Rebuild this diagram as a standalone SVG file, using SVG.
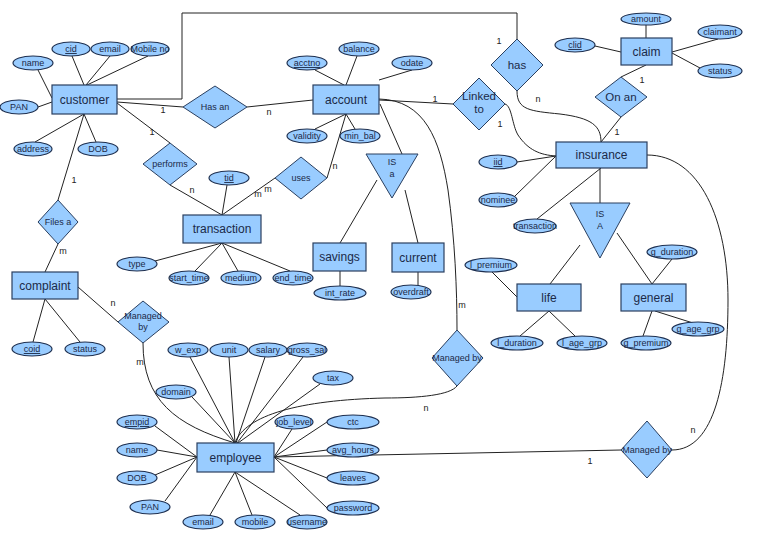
<svg xmlns="http://www.w3.org/2000/svg" width="768" height="543" viewBox="0 0 768 543">
<style>
.ent{fill:#99ccff;stroke:#2a3f5f;stroke-width:1.2}
.att{fill:#99ccff;stroke:#1e2f4f;stroke-width:1.2}
.rel{fill:#99ccff;stroke:#2a3f5f;stroke-width:1}
.ln{fill:none;stroke:#222;stroke-width:1}
text{font-family:"Liberation Sans",Arial,sans-serif;fill:#1b2a48;text-anchor:middle}
.et{font-size:12px}
.at{font-size:9px}
.rt{font-size:9px}
.rb{font-size:11.5px}
.cd{font-size:9px;fill:#222}
.u{text-decoration:underline}
</style>
<rect width="768" height="543" fill="#fff"/>
<g id="connectors">
<polyline class="ln" points="117,99 182,99 182,13 517,13 517,39"/>
<path class="ln" d="M517,91 C517,110 530,111 560,114 C592,118 601,126 601,142"/>
<line class="ln" x1="117" y1="102" x2="183" y2="107"/>
<line class="ln" x1="247" y1="107" x2="313" y2="100"/>
<line class="ln" x1="117" y1="103" x2="170" y2="143"/>
<line class="ln" x1="170" y1="185" x2="222" y2="215"/>
<line class="ln" x1="275" y1="178" x2="222" y2="215"/>
<line class="ln" x1="327" y1="178" x2="346" y2="114"/>
<line class="ln" x1="84" y1="114" x2="58" y2="200"/>
<line class="ln" x1="58" y1="244" x2="45" y2="272"/>
<line class="ln" x1="78" y1="287" x2="118" y2="322"/>
<path class="ln" d="M143,343 C143,400 175,425 235,443"/>
<line class="ln" x1="379" y1="100" x2="453" y2="104"/>
<path class="ln" d="M505,104 C512,106 512,125 518,135 C528,150 540,155 556,156"/>
<path class="ln" d="M379,99 C425,100 440,140 448,190 C455,240 457,290 457,330"/>
<path class="ln" d="M457,386 C450,395 420,398 385,398 C300,400 245,415 235,443"/>
<line class="ln" x1="380" y1="104" x2="402" y2="154"/>
<line class="ln" x1="377" y1="180" x2="340" y2="243"/>
<line class="ln" x1="405" y1="190" x2="418" y2="243"/>
<line class="ln" x1="646" y1="65" x2="621" y2="77"/>
<line class="ln" x1="621" y1="117" x2="601" y2="142"/>
<line class="ln" x1="600" y1="168" x2="600" y2="203"/>
<line class="ln" x1="580" y1="245" x2="550" y2="284"/>
<line class="ln" x1="617" y1="233" x2="652" y2="284"/>
<line class="ln" x1="274" y1="457" x2="621" y2="450"/>
<path class="ln" d="M672,450 C715,450 728,380 728,300 C728,220 700,155 647,155"/>
<!-- attribute links -->
<line class="ln" x1="72" y1="56" x2="84" y2="85"/>
<line class="ln" x1="110" y1="56" x2="86" y2="85"/>
<line class="ln" x1="148" y1="56" x2="87" y2="85"/>
<line class="ln" x1="38" y1="70" x2="52" y2="98"/>
<line class="ln" x1="38" y1="107" x2="52" y2="102"/>
<line class="ln" x1="35" y1="142" x2="84" y2="114"/>
<line class="ln" x1="96" y1="142" x2="84" y2="114"/>
<line class="ln" x1="315" y1="70" x2="344" y2="85"/>
<line class="ln" x1="357" y1="56" x2="346" y2="85"/>
<line class="ln" x1="412" y1="70" x2="379" y2="80"/>
<line class="ln" x1="315" y1="129" x2="346" y2="114"/>
<line class="ln" x1="355" y1="129" x2="346" y2="114"/>
<line class="ln" x1="227" y1="185" x2="222" y2="215"/>
<line class="ln" x1="155" y1="261" x2="222" y2="243"/>
<line class="ln" x1="195" y1="271" x2="222" y2="243"/>
<line class="ln" x1="238" y1="271" x2="222" y2="243"/>
<line class="ln" x1="290" y1="271" x2="222" y2="243"/>
<line class="ln" x1="33" y1="342" x2="45" y2="299"/>
<line class="ln" x1="80" y1="342" x2="45" y2="299"/>
<line class="ln" x1="340" y1="271" x2="340" y2="286"/>
<line class="ln" x1="418" y1="272" x2="418" y2="285"/>
<line class="ln" x1="646" y1="25" x2="646" y2="38"/>
<line class="ln" x1="595" y1="46" x2="621" y2="52"/>
<line class="ln" x1="718" y1="39" x2="672" y2="52"/>
<line class="ln" x1="700" y1="68" x2="672" y2="53"/>
<line class="ln" x1="517" y1="162" x2="556" y2="156"/>
<line class="ln" x1="515" y1="196" x2="556" y2="156"/>
<line class="ln" x1="537" y1="219" x2="601" y2="168"/>
<line class="ln" x1="492" y1="272" x2="517" y2="297"/>
<line class="ln" x1="520" y1="336" x2="549" y2="311"/>
<line class="ln" x1="575" y1="336" x2="549" y2="311"/>
<line class="ln" x1="672" y1="259" x2="652" y2="284"/>
<line class="ln" x1="643" y1="336" x2="652" y2="311"/>
<line class="ln" x1="693" y1="323" x2="655" y2="311"/>
<line class="ln" x1="190" y1="357" x2="235" y2="443"/>
<line class="ln" x1="229" y1="357" x2="235" y2="443"/>
<line class="ln" x1="265" y1="357" x2="236" y2="443"/>
<line class="ln" x1="303" y1="357" x2="237" y2="443"/>
<line class="ln" x1="320" y1="384" x2="238" y2="443"/>
<line class="ln" x1="192" y1="397" x2="235" y2="443"/>
<line class="ln" x1="292" y1="429" x2="274" y2="457"/>
<line class="ln" x1="327" y1="422" x2="274" y2="457"/>
<line class="ln" x1="327" y1="450" x2="274" y2="457"/>
<line class="ln" x1="327" y1="478" x2="274" y2="457"/>
<line class="ln" x1="327" y1="508" x2="274" y2="457"/>
<line class="ln" x1="210" y1="515" x2="235" y2="472"/>
<line class="ln" x1="252" y1="515" x2="235" y2="472"/>
<line class="ln" x1="300" y1="515" x2="235" y2="472"/>
<line class="ln" x1="155" y1="426" x2="197" y2="457"/>
<line class="ln" x1="157" y1="450" x2="197" y2="457"/>
<line class="ln" x1="155" y1="475" x2="197" y2="457"/>
<line class="ln" x1="165" y1="501" x2="197" y2="457"/>
<g id="cardinalities">
<text class="cd" x="499" y="44">1</text>
<text class="cd" x="538" y="102">n</text>
<text class="cd" x="163" y="113">1</text>
<text class="cd" x="269" y="115">n</text>
<text class="cd" x="152" y="135">1</text>
<text class="cd" x="192" y="193">n</text>
<text class="cd" x="258" y="197">m</text>
<text class="cd" x="268" y="192">m</text>
<text class="cd" x="335" y="169">n</text>
<text class="cd" x="74" y="183">1</text>
<text class="cd" x="63" y="254">m</text>
<text class="cd" x="113" y="306">n</text>
<text class="cd" x="140" y="365">m</text>
<text class="cd" x="435" y="102">1</text>
<text class="cd" x="500" y="127">1</text>
<text class="cd" x="642" y="83">1</text>
<text class="cd" x="617" y="135">1</text>
<text class="cd" x="462" y="308">m</text>
<text class="cd" x="426" y="411">n</text>
<text class="cd" x="590" y="464">1</text>
<text class="cd" x="693" y="433">n</text>
</g>
</g>
<!-- entities -->
<g id="customer"><rect class="ent" x="52" y="85" width="65" height="29"/><text class="et" x="84.5" y="104">customer</text></g>
<g id="account"><rect class="ent" x="313" y="85" width="66" height="29"/><text class="et" x="346" y="104">account</text></g>
<g id="transaction"><rect class="ent" x="183" y="215" width="78" height="28"/><text class="et" x="222" y="233">transaction</text></g>
<g id="complaint"><rect class="ent" x="12" y="272" width="66" height="27"/><text class="et" x="45" y="290">complaint</text></g>
<g id="savings"><rect class="ent" x="313" y="243" width="53" height="28"/><text class="et" x="339.5" y="261">savings</text></g>
<g id="current"><rect class="ent" x="392" y="243" width="52" height="29"/><text class="et" x="418" y="262">current</text></g>
<g id="insurance"><rect class="ent" x="556" y="142" width="91" height="26"/><text class="et" x="601.5" y="159">insurance</text></g>
<g id="claim"><rect class="ent" x="621" y="38" width="51" height="27"/><text class="et" x="646.5" y="56">claim</text></g>
<g id="life"><rect class="ent" x="517" y="284" width="64" height="27"/><text class="et" x="549" y="302">life</text></g>
<g id="general"><rect class="ent" x="621" y="284" width="65" height="27"/><text class="et" x="653.5" y="302">general</text></g>
<g id="employee"><rect class="ent" x="197" y="443" width="77" height="29"/><text class="et" x="235.5" y="462">employee</text></g>
<!-- relationships -->
<g id="rel-has"><polygon class="rel" points="517,39 543,65 517,91 491,65"/><text class="rb" x="517" y="69">has</text></g>
<g id="rel-hasan"><polygon class="rel" points="215,86 247,107 215,128 183,107"/><text class="rt" x="215" y="110">Has an</text></g>
<g id="rel-performs"><polygon class="rel" points="170,143 197,164 170,185 143,164"/><text class="rt" x="170" y="167">performs</text></g>
<g id="rel-uses"><polygon class="rel" points="301,157 327,178 301,199 275,178"/><text class="rt" x="301" y="181">uses</text></g>
<g id="rel-filesa"><polygon class="rel" points="58,200 78,222 58,244 38,222"/><text class="rt" x="58" y="225">Files a</text></g>
<g id="rel-managed1"><polygon class="rel" points="143,301 169,322 143,343 118,322"/><text class="rt" x="143" y="319">Managed</text><text class="rt" x="143" y="330">by</text></g>
<g id="rel-linkedto"><polygon class="rel" points="479,78 505,104 479,130 453,104"/><text class="rb" x="479" y="100">Linked</text><text class="rb" x="479" y="113">to</text></g>
<g id="rel-onan"><polygon class="rel" points="621,77 647,97 621,117 595,97"/><text class="rb" x="621" y="101">On an</text></g>
<g id="rel-managed2"><polygon class="rel" points="457,330 483,358 457,386 432,358"/><text class="rt" x="457" y="361">Managed by</text></g>
<g id="rel-managed3"><polygon class="rel" points="647,421 672,450 647,478 621,450"/><text class="rt" x="647" y="453">Managed by</text></g>
<g id="isa-account"><polygon class="rel" points="366,154 418,154 392,198"/><text class="rt" x="392" y="165">IS</text><text class="rt" x="392" y="177">a</text></g>
<g id="isa-insurance"><polygon class="rel" points="570,203 630,203 600,258"/><text class="rt" x="600" y="217">IS</text><text class="rt" x="600" y="229">A</text></g>
<!-- attributes -->
<g id="a-cid"><ellipse class="att" cx="71" cy="49" rx="19" ry="7"/><text class="at u" x="71" y="52">cid</text></g>
<g id="a-email"><ellipse class="att" cx="110" cy="49" rx="19" ry="7"/><text class="at" x="110" y="52">email</text></g>
<g id="a-mobile"><ellipse class="att" cx="150" cy="49" rx="19" ry="7"/><text class="at" x="150" y="52">Mobile no</text></g>
<g id="a-name"><ellipse class="att" cx="33" cy="63" rx="20" ry="7"/><text class="at" x="33" y="66">name</text></g>
<g id="a-pan"><ellipse class="att" cx="19" cy="107" rx="19" ry="7"/><text class="at" x="19" y="110">PAN</text></g>
<g id="a-address"><ellipse class="att" cx="33" cy="149" rx="19" ry="7"/><text class="at" x="33" y="152">address</text></g>
<g id="a-dob"><ellipse class="att" cx="98" cy="149" rx="20" ry="7"/><text class="at" x="98" y="152">DOB</text></g>
<g id="a-acctno"><ellipse class="att" cx="307" cy="63" rx="20" ry="7"/><text class="at u" x="307" y="66">acctno</text></g>
<g id="a-balance"><ellipse class="att" cx="359" cy="49" rx="20" ry="7"/><text class="at" x="359" y="52">balance</text></g>
<g id="a-odate"><ellipse class="att" cx="412" cy="63" rx="20" ry="7"/><text class="at" x="412" y="66">odate</text></g>
<g id="a-validity"><ellipse class="att" cx="307" cy="136" rx="20" ry="7"/><text class="at" x="307" y="139">validity</text></g>
<g id="a-minbal"><ellipse class="att" cx="360" cy="136" rx="20" ry="7"/><text class="at" x="360" y="139">min_bal</text></g>
<g id="a-tid"><ellipse class="att" cx="229" cy="178" rx="20" ry="7"/><text class="at u" x="229" y="181">tid</text></g>
<g id="a-type"><ellipse class="att" cx="137" cy="264" rx="20" ry="7"/><text class="at" x="137" y="267">type</text></g>
<g id="a-start"><ellipse class="att" cx="189" cy="278" rx="20" ry="7"/><text class="at" x="189" y="281">start_time</text></g>
<g id="a-medium"><ellipse class="att" cx="241" cy="278" rx="20" ry="7"/><text class="at" x="241" y="281">medium</text></g>
<g id="a-end"><ellipse class="att" cx="293" cy="278" rx="20" ry="7"/><text class="at" x="293" y="281">end_time</text></g>
<g id="a-coid"><ellipse class="att" cx="32" cy="349" rx="20" ry="7"/><text class="at u" x="32" y="352">coid</text></g>
<g id="a-cstatus"><ellipse class="att" cx="85" cy="349" rx="20" ry="7"/><text class="at" x="85" y="352">status</text></g>
<g id="a-intrate"><ellipse class="att" cx="340" cy="293" rx="26" ry="7"/><text class="at" x="340" y="296">int_rate</text></g>
<g id="a-overdraft"><ellipse class="att" cx="411" cy="292" rx="20" ry="7"/><text class="at" x="411" y="295">overdraft</text></g>
<g id="a-amount"><ellipse class="att" cx="646" cy="19" rx="25" ry="6"/><text class="at" x="646" y="22">amount</text></g>
<g id="a-clid"><ellipse class="att" cx="575" cy="45" rx="20" ry="7"/><text class="at u" x="575" y="48">clid</text></g>
<g id="a-claimant"><ellipse class="att" cx="720" cy="32" rx="22" ry="7"/><text class="at" x="720" y="35">claimant</text></g>
<g id="a-clstatus"><ellipse class="att" cx="720" cy="71" rx="22" ry="7"/><text class="at" x="720" y="74">status</text></g>
<g id="a-iid"><ellipse class="att" cx="498" cy="162" rx="19" ry="7"/><text class="at u" x="498" y="165">iid</text></g>
<g id="a-nominee"><ellipse class="att" cx="498" cy="200" rx="19" ry="7"/><text class="at" x="498" y="203">nominee</text></g>
<g id="a-itrans"><ellipse class="att" cx="535" cy="226" rx="21" ry="7"/><text class="at" x="535" y="229">transaction</text></g>
<g id="a-lprem"><ellipse class="att" cx="491" cy="265" rx="26" ry="7"/><text class="at" x="491" y="268">l_premium</text></g>
<g id="a-ldur"><ellipse class="att" cx="517" cy="343" rx="26" ry="7"/><text class="at" x="517" y="346">l_duration</text></g>
<g id="a-lage"><ellipse class="att" cx="582" cy="343" rx="25" ry="7"/><text class="at" x="582" y="346">l_age_grp</text></g>
<g id="a-gdur"><ellipse class="att" cx="672" cy="252" rx="25" ry="7"/><text class="at" x="672" y="255">g_duration</text></g>
<g id="a-gprem"><ellipse class="att" cx="646" cy="343" rx="25" ry="7"/><text class="at" x="646" y="346">g_premium</text></g>
<g id="a-gage"><ellipse class="att" cx="698" cy="329" rx="26" ry="7"/><text class="at" x="698" y="332">g_age_grp</text></g>
<g id="a-wexp"><ellipse class="att" cx="188" cy="350" rx="20" ry="7"/><text class="at" x="188" y="353">w_exp</text></g>
<g id="a-unit"><ellipse class="att" cx="229" cy="350" rx="19" ry="7"/><text class="at" x="229" y="353">unit</text></g>
<g id="a-salary"><ellipse class="att" cx="268" cy="350" rx="19" ry="7"/><text class="at" x="268" y="353">salary</text></g>
<g id="a-gross"><ellipse class="att" cx="307" cy="350" rx="20" ry="7"/><text class="at" x="307" y="353">gross_sal</text></g>
<g id="a-tax"><ellipse class="att" cx="333" cy="378" rx="20" ry="7"/><text class="at" x="333" y="381">tax</text></g>
<g id="a-domain"><ellipse class="att" cx="176" cy="392" rx="20" ry="7"/><text class="at" x="176" y="395">domain</text></g>
<g id="a-joblevel"><ellipse class="att" cx="294" cy="422" rx="19" ry="7"/><text class="at" x="294" y="425">job_level</text></g>
<g id="a-ctc"><ellipse class="att" cx="353" cy="422" rx="26" ry="7"/><text class="at" x="353" y="425">ctc</text></g>
<g id="a-avg"><ellipse class="att" cx="353" cy="450" rx="26" ry="7"/><text class="at" x="353" y="453">avg_hours</text></g>
<g id="a-leaves"><ellipse class="att" cx="353" cy="478" rx="26" ry="7"/><text class="at" x="353" y="481">leaves</text></g>
<g id="a-password"><ellipse class="att" cx="353" cy="508" rx="26" ry="7"/><text class="at" x="353" y="511">password</text></g>
<g id="a-eemail"><ellipse class="att" cx="203" cy="522" rx="20" ry="7"/><text class="at" x="203" y="525">email</text></g>
<g id="a-mobile2"><ellipse class="att" cx="255" cy="522" rx="20" ry="7"/><text class="at" x="255" y="525">mobile</text></g>
<g id="a-username"><ellipse class="att" cx="307" cy="522" rx="20" ry="7"/><text class="at" x="307" y="525">username</text></g>
<g id="a-empid"><ellipse class="att" cx="137" cy="422" rx="20" ry="7"/><text class="at u" x="137" y="425">empid</text></g>
<g id="a-ename"><ellipse class="att" cx="137" cy="450" rx="20" ry="7"/><text class="at" x="137" y="453">name</text></g>
<g id="a-edob"><ellipse class="att" cx="137" cy="478" rx="20" ry="7"/><text class="at" x="137" y="481">DOB</text></g>
<g id="a-epan"><ellipse class="att" cx="150" cy="507" rx="20" ry="7"/><text class="at" x="150" y="510">PAN</text></g>
</svg>
